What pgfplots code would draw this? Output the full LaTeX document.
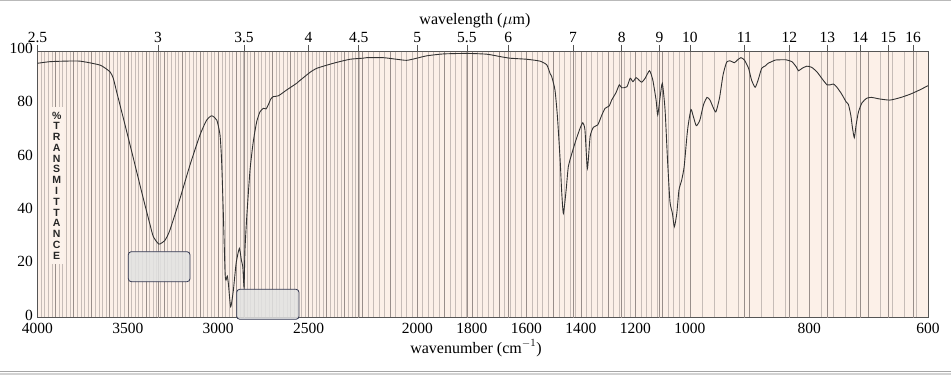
\documentclass[border=0pt]{standalone}
\usepackage{fontspec}
\setmainfont{Liberation Serif}
\newfontfamily\sansb{Liberation Sans}
\usepackage{pgfplots}
\pgfplotsset{compat=1.18}
\definecolor{bgc}{RGB}{252,240,232}
\definecolor{minc}{RGB}{198,188,183}
\definecolor{majc}{RGB}{152,142,138}
\definecolor{curvec}{RGB}{50,50,50}
\definecolor{axc}{RGB}{85,85,85}
\definecolor{boxfill}{RGB}{226,226,226}
\definecolor{boxdraw}{RGB}{50,55,80}
\definecolor{tbox}{RGB}{252,242,235}
\pgfplotsset{irtrafo/.style={x coord trafo/.code={\pgfmathparse{(##1>=2200)?((4000-##1)*0.1807):((##1>=1000)?(325.3+(2200-##1)*0.2725):(652.8+(1000-##1)*0.594))}}}}
\pgfplotstableread{
wn T
4000 95.4
3931 96.0
3848 96.2
3765 96.2
3654 94.7
3599 92.2
3581 89.8
3562 84.7
3525 74.8
3488 64.8
3451 54.7
3415 44.8
3377 34.8
3359 30.4
3328 27.6
3294 29.1
3267 32.9
3211 44.8
3156 57.3
3101 68.5
3064 74.1
3036 75.7
3008 74.1
2990 68.5
2981 58.5
2972 39.7
2962 16.6
2957 14.1
2950 15.6
2944 12.9
2931 4.1
2916 10.4
2901 20.4
2883 26.0
2872 21.6
2864 19.1
2857 11.6
2852 25.4
2842 37.9
2824 55.4
2806 66.0
2787 73.5
2769 77.2
2750 78.5
2735 78.3
2723 79.8
2709 82.0
2695 82.9
2667 83.2
2621 85.4
2566 87.9
2547 89.0
2492 92.0
2455 93.5
2363 95.4
2271 96.9
2200 97.3
2186 97.5
2125 97.5
2076 96.9
2039 96.5
2002 97.3
1965 98.2
1905 98.9
1819 99.1
1745 98.8
1696 97.9
1660 97.3
1598 96.9
1550 96.2
1525 94.8
1513 91.6
1507 90.4
1495 85.4
1486 75.4
1476 59.1
1470 46.6
1464 39.1
1454 47.9
1446 56.6
1433 61.6
1418 66.6
1403 71.0
1393 73.1
1385 70.4
1376 56.0
1366 67.9
1354 71.4
1338 72.3
1323 76.0
1311 78.5
1296 79.4
1287 81.6
1271 84.4
1259 87.3
1250 86.2
1231 86.6
1219 89.8
1209 88.5
1197 90.0
1185 88.9
1176 88.3
1164 89.8
1148 92.6
1136 89.1
1124 81.6
1118 76.0
1109 82.9
1101 87.9
1091 77.9
1082 59.1
1073 43.5
1064 39.1
1057 34.1
1048 39.1
1040 47.9
1030 51.6
1021 56.6
1011 67.9
1006 72.3
999 78.1
995 75.4
990 72.0
984 74.1
978 79.8
972 82.6
967 81.6
961 78.5
957 77.2
951 82.3
945 91.0
939 95.8
933 96.3
926 95.6
921 96.6
915 97.5
909 96.6
902 93.5
897 89.1
891 86.4
886 89.1
880 93.5
874 94.4
869 95.4
857 96.6
849 96.7
839 96.7
829 96.0
822 94.1
818 92.6
812 93.5
804 94.3
796 93.9
787 92.2
779 89.8
770 87.3
765 87.3
759 87.6
754 86.6
746 84.1
738 81.0
734 80.0
730 76.0
727 71.0
724 67.5
721 72.3
717 77.2
711 80.6
703 82.3
695 82.6
681 82.0
664 81.6
647 82.5
630 83.8
614 85.4
600 87.0
}\spectrum
\begin{document}
\begin{tikzpicture}
\path[use as bounding box] (-37.5pt,-63.3pt) rectangle (913.5pt,317.7pt);
\begin{axis}[
  at={(0,0)}, anchor=south west, scale only axis,
  width=890.5pt, height=266.7pt,
  irtrafo, xmin=4000, xmax=600, ymin=0, ymax=100,
  axis background/.style={fill=bgc},
  xtick={4000,3900,3800,3700,3600,3500,3400,3300,3200,3100,3000,2900,2800,2700,2600,2500,2400,2300,2200,2100,2000,1900,1800,1700,1600,1500,1400,1300,1200,1100,1000,900,800,700,600},
  xticklabels={4000,{},{},{},{},3500,{},{},{},{},3000,{},{},{},{},2500,{},{},{},{},2000,{},1800,{},1600,{},1400,{},1200,{},1000,{},800,{},600},
  minor xtick={600,620,...,4000},
  extra x ticks={3333.33,2857.14,2222.22,1818.18,1666.67,1428.57,1250,1111.11,909.09,833.33,769.23,714.29,666.67,625},
  extra x tick labels={,,,,,,,,,,,,,},
  extra x tick style={grid=major},
  xmajorgrids, xminorgrids,
  major grid style={majc, line width=0.7pt},
  minor grid style={minc, line width=0.6pt},
  ytick={0,20,40,60,80,100},
  yticklabels={0,20,40,60,80,100},
  major tick length=0pt, minor tick length=0pt,
  axis line style={axc, line width=0.7pt},
  tick label style={font=\fontsize{15.5}{18}\selectfont},
  xticklabel style={anchor=base, yshift=-15.6pt, inner sep=0pt},
  yticklabel style={anchor=east, xshift=-4.3pt, yshift=2.5pt, inner sep=0pt},
]
\addplot[curvec, line width=0.9pt, smooth, tension=0.35] table[x=wn, y=T] {\spectrum};
\end{axis}
\begin{axis}[
  at={(0,0)}, anchor=south west, scale only axis,
  width=890.5pt, height=266.7pt,
  irtrafo, xmin=4000, xmax=600, ymin=0, ymax=100,
  axis x line*=top, hide y axis,
  axis line style={axc, line width=0.7pt, -},
  xtick={4000,3333.33,2857.14,2500,2222.22,2000,1818.18,1666.67,1428.57,1250,1111.11,1000,909.09,833.33,769.23,714.29,666.67,625},
  xticklabels={2.5,3,3.5,4,4.5,5,5.5,6,7,8,9,10,11,12,13,14,15,16},
  tick align=outside, major tick length=6pt,
  tick style={axc, line width=0.7pt},
  tick label style={font=\fontsize{15.5}{18}\selectfont},
  xticklabel style={anchor=base, yshift=2pt, inner sep=0pt},
]
\end{axis}
% annotation boxes
\draw[boxdraw, line width=0.8pt, fill=boxfill, fill opacity=0.85, rounded corners=3pt] (90.8pt,36pt) rectangle (152.5pt,66pt);
\draw[boxdraw, line width=0.8pt, fill=boxfill, fill opacity=0.85, rounded corners=3pt] (199.2pt,-1.6pt) rectangle (261.5pt,28.4pt);
\node[fill=tbox, inner sep=0pt, minimum width=14pt, minimum height=156pt, align=center,
      font=\sansb\bfseries\fontsize{10.5}{10.77}\selectfont, text=black!85] at (19.2pt,132.2pt)
  {\%\\T\\R\\A\\N\\S\\M\\I\\T\\T\\A\\N\\C\\E};
\node[anchor=base, font=\fontsize{16}{19}\selectfont] at (438.5pt,-35.5pt) {wavenumber (cm$^{-1}$)};
\node[anchor=base, font=\fontsize{16}{19}\selectfont] at (437.5pt,292.7pt) {wavelength ($\mu$m)};
% frame rules
\draw[gray!55, line width=1.2pt] (-37.5pt,317.1pt) -- (913.5pt,317.1pt);
\draw[gray!70, line width=1.3pt] (-37.5pt,-53.5pt) -- (913.5pt,-53.5pt);
\draw[gray!35, line width=2pt] (-37.5pt,-55.8pt) -- (913.5pt,-55.8pt);
\end{tikzpicture}
\end{document}
